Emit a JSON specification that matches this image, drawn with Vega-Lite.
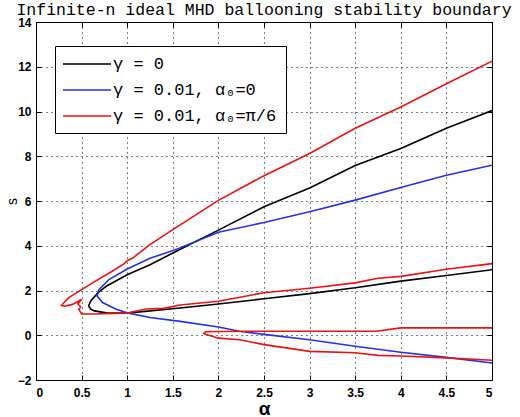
{
  "$schema": "https://vega.github.io/schema/vega-lite/v6.json",
  "autosize": {"type": "none"},
  "width": 456,
  "height": 358,
  "padding": {"left": 36, "top": 22, "right": 28, "bottom": 37},
  "background": "white",
  "title": {
    "text": "Infinite-n ideal MHD ballooning stability boundary",
    "font": "Liberation Mono",
    "fontSize": 16.5,
    "fontWeight": "normal",
    "color": "black",
    "anchor": "middle",
    "offset": -2
  },
  "config": {
    "view": {"stroke": "black", "strokeWidth": 1},
    "axis": {
      "domainColor": "black",
      "tickColor": "black",
      "labelColor": "black",
      "titleColor": "black",
      "labelFont": "Liberation Sans",
      "labelFontWeight": "bold",
      "labelFontSize": 12,
      "gridColor": "black",
      "gridDash": [1, 4],
      "gridOpacity": 1,
      "gridWidth": 1.1
    }
  },
  "data": {
    "values": [
      {"series": "γ = 0", "part": "k", "i": 1, "a": 5, "s": 10.04},
      {"series": "γ = 0", "part": "k", "i": 2, "a": 4.5, "s": 9.25},
      {"series": "γ = 0", "part": "k", "i": 3, "a": 4, "s": 8.35},
      {"series": "γ = 0", "part": "k", "i": 4, "a": 3.5, "s": 7.59},
      {"series": "γ = 0", "part": "k", "i": 5, "a": 3, "s": 6.58},
      {"series": "γ = 0", "part": "k", "i": 6, "a": 2.5, "s": 5.74},
      {"series": "γ = 0", "part": "k", "i": 7, "a": 2, "s": 4.7},
      {"series": "γ = 0", "part": "k", "i": 8, "a": 1.55, "s": 3.78},
      {"series": "γ = 0", "part": "k", "i": 9, "a": 1.25, "s": 3.15},
      {"series": "γ = 0", "part": "k", "i": 10, "a": 1, "s": 2.7},
      {"series": "γ = 0", "part": "k", "i": 11, "a": 0.77, "s": 2.19},
      {"series": "γ = 0", "part": "k", "i": 12, "a": 0.68, "s": 1.9},
      {"series": "γ = 0", "part": "k", "i": 13, "a": 0.6, "s": 1.53},
      {"series": "γ = 0", "part": "k", "i": 14, "a": 0.577, "s": 1.31},
      {"series": "γ = 0", "part": "k", "i": 15, "a": 0.6, "s": 1.17},
      {"series": "γ = 0", "part": "k", "i": 16, "a": 0.64, "s": 1.09},
      {"series": "γ = 0", "part": "k", "i": 17, "a": 0.77, "s": 1.0},
      {"series": "γ = 0", "part": "k", "i": 18, "a": 1, "s": 0.99},
      {"series": "γ = 0", "part": "k", "i": 19, "a": 1.58, "s": 1.22},
      {"series": "γ = 0", "part": "k", "i": 20, "a": 2, "s": 1.4},
      {"series": "γ = 0", "part": "k", "i": 21, "a": 2.5, "s": 1.63},
      {"series": "γ = 0", "part": "k", "i": 22, "a": 3, "s": 1.86},
      {"series": "γ = 0", "part": "k", "i": 23, "a": 3.5, "s": 2.12},
      {"series": "γ = 0", "part": "k", "i": 24, "a": 4, "s": 2.42},
      {"series": "γ = 0", "part": "k", "i": 25, "a": 4.5, "s": 2.67},
      {"series": "γ = 0", "part": "k", "i": 26, "a": 5, "s": 2.93},

      {"series": "γ = 0.01, α₀=0", "part": "b", "i": 1, "a": 5, "s": 7.6},
      {"series": "γ = 0.01, α₀=0", "part": "b", "i": 2, "a": 4.5, "s": 7.15},
      {"series": "γ = 0.01, α₀=0", "part": "b", "i": 3, "a": 4, "s": 6.6},
      {"series": "γ = 0.01, α₀=0", "part": "b", "i": 4, "a": 3.5, "s": 6.04},
      {"series": "γ = 0.01, α₀=0", "part": "b", "i": 5, "a": 3, "s": 5.52},
      {"series": "γ = 0.01, α₀=0", "part": "b", "i": 6, "a": 2.5, "s": 5.04},
      {"series": "γ = 0.01, α₀=0", "part": "b", "i": 7, "a": 2, "s": 4.6},
      {"series": "γ = 0.01, α₀=0", "part": "b", "i": 8, "a": 1.55, "s": 3.85},
      {"series": "γ = 0.01, α₀=0", "part": "b", "i": 9, "a": 1.25, "s": 3.44},
      {"series": "γ = 0.01, α₀=0", "part": "b", "i": 10, "a": 1, "s": 2.96},
      {"series": "γ = 0.01, α₀=0", "part": "b", "i": 11, "a": 0.8, "s": 2.49},
      {"series": "γ = 0.01, α₀=0", "part": "b", "i": 12, "a": 0.69, "s": 2.04},
      {"series": "γ = 0.01, α₀=0", "part": "b", "i": 13, "a": 0.67, "s": 1.75},
      {"series": "γ = 0.01, α₀=0", "part": "b", "i": 14, "a": 0.73, "s": 1.46},
      {"series": "γ = 0.01, α₀=0", "part": "b", "i": 15, "a": 0.88, "s": 1.16},
      {"series": "γ = 0.01, α₀=0", "part": "b", "i": 16, "a": 1, "s": 1.0},
      {"series": "γ = 0.01, α₀=0", "part": "b", "i": 17, "a": 1.25, "s": 0.79},
      {"series": "γ = 0.01, α₀=0", "part": "b", "i": 18, "a": 1.58, "s": 0.62},
      {"series": "γ = 0.01, α₀=0", "part": "b", "i": 19, "a": 2, "s": 0.37},
      {"series": "γ = 0.01, α₀=0", "part": "b", "i": 20, "a": 2.23, "s": 0.18},
      {"series": "γ = 0.01, α₀=0", "part": "b", "i": 21, "a": 2.5, "s": 0.04},
      {"series": "γ = 0.01, α₀=0", "part": "b", "i": 22, "a": 3, "s": -0.2},
      {"series": "γ = 0.01, α₀=0", "part": "b", "i": 23, "a": 3.5, "s": -0.49},
      {"series": "γ = 0.01, α₀=0", "part": "b", "i": 24, "a": 4, "s": -0.76},
      {"series": "γ = 0.01, α₀=0", "part": "b", "i": 25, "a": 4.5, "s": -0.99},
      {"series": "γ = 0.01, α₀=0", "part": "b", "i": 26, "a": 5, "s": -1.24},

      {"series": "γ = 0.01, α₀=π/6", "part": "r1", "i": 1, "a": 5, "s": 12.25},
      {"series": "γ = 0.01, α₀=π/6", "part": "r1", "i": 2, "a": 4.5, "s": 11.24},
      {"series": "γ = 0.01, α₀=π/6", "part": "r1", "i": 3, "a": 4, "s": 10.2},
      {"series": "γ = 0.01, α₀=π/6", "part": "r1", "i": 4, "a": 3.5, "s": 9.25},
      {"series": "γ = 0.01, α₀=π/6", "part": "r1", "i": 5, "a": 3, "s": 8.12},
      {"series": "γ = 0.01, α₀=π/6", "part": "r1", "i": 6, "a": 2.5, "s": 7.13},
      {"series": "γ = 0.01, α₀=π/6", "part": "r1", "i": 7, "a": 2, "s": 6.03},
      {"series": "γ = 0.01, α₀=π/6", "part": "r1", "i": 8, "a": 1.5, "s": 4.72},
      {"series": "γ = 0.01, α₀=π/6", "part": "r1", "i": 9, "a": 1.25, "s": 4.05},
      {"series": "γ = 0.01, α₀=π/6", "part": "r1", "i": 10, "a": 1.06, "s": 3.45},
      {"series": "γ = 0.01, α₀=π/6", "part": "r1", "i": 11, "a": 1.0, "s": 3.33},
      {"series": "γ = 0.01, α₀=π/6", "part": "r1", "i": 12, "a": 0.96, "s": 3.18},
      {"series": "γ = 0.01, α₀=π/6", "part": "r1", "i": 13, "a": 0.83, "s": 2.85},
      {"series": "γ = 0.01, α₀=π/6", "part": "r1", "i": 14, "a": 0.62, "s": 2.34},
      {"series": "γ = 0.01, α₀=π/6", "part": "r1", "i": 15, "a": 0.5, "s": 2.04},
      {"series": "γ = 0.01, α₀=π/6", "part": "r1", "i": 16, "a": 0.36, "s": 1.68},
      {"series": "γ = 0.01, α₀=π/6", "part": "r1", "i": 17, "a": 0.28, "s": 1.34},
      {"series": "γ = 0.01, α₀=π/6", "part": "r1", "i": 18, "a": 0.31, "s": 1.3},
      {"series": "γ = 0.01, α₀=π/6", "part": "r1", "i": 19, "a": 0.4, "s": 1.38},
      {"series": "γ = 0.01, α₀=π/6", "part": "r1", "i": 20, "a": 0.47, "s": 1.53},
      {"series": "γ = 0.01, α₀=π/6", "part": "r1", "i": 21, "a": 0.5, "s": 1.61},
      {"series": "γ = 0.01, α₀=π/6", "part": "r1", "i": 22, "a": 0.46, "s": 1.4},
      {"series": "γ = 0.01, α₀=π/6", "part": "r1", "i": 23, "a": 0.49, "s": 1.26},
      {"series": "γ = 0.01, α₀=π/6", "part": "r1", "i": 24, "a": 0.47, "s": 1.16},
      {"series": "γ = 0.01, α₀=π/6", "part": "r1", "i": 25, "a": 0.5, "s": 0.95},
      {"series": "γ = 0.01, α₀=π/6", "part": "r1", "i": 26, "a": 0.62, "s": 0.95},
      {"series": "γ = 0.01, α₀=π/6", "part": "r1", "i": 27, "a": 1.0, "s": 0.99},
      {"series": "γ = 0.01, α₀=π/6", "part": "r1", "i": 28, "a": 1.21, "s": 1.17},
      {"series": "γ = 0.01, α₀=π/6", "part": "r1", "i": 29, "a": 1.4, "s": 1.2},
      {"series": "γ = 0.01, α₀=π/6", "part": "r1", "i": 30, "a": 1.58, "s": 1.35},
      {"series": "γ = 0.01, α₀=π/6", "part": "r1", "i": 31, "a": 2, "s": 1.52},
      {"series": "γ = 0.01, α₀=π/6", "part": "r1", "i": 32, "a": 2.5, "s": 1.9},
      {"series": "γ = 0.01, α₀=π/6", "part": "r1", "i": 33, "a": 3, "s": 2.1},
      {"series": "γ = 0.01, α₀=π/6", "part": "r1", "i": 34, "a": 3.5, "s": 2.34},
      {"series": "γ = 0.01, α₀=π/6", "part": "r1", "i": 35, "a": 3.75, "s": 2.55},
      {"series": "γ = 0.01, α₀=π/6", "part": "r1", "i": 36, "a": 4, "s": 2.63},
      {"series": "γ = 0.01, α₀=π/6", "part": "r1", "i": 37, "a": 4.5, "s": 2.95},
      {"series": "γ = 0.01, α₀=π/6", "part": "r1", "i": 38, "a": 5, "s": 3.2},

      {"series": "γ = 0.01, α₀=π/6", "part": "r2", "i": 1, "a": 5, "s": 0.33},
      {"series": "γ = 0.01, α₀=π/6", "part": "r2", "i": 2, "a": 4.5, "s": 0.33},
      {"series": "γ = 0.01, α₀=π/6", "part": "r2", "i": 3, "a": 4, "s": 0.33},
      {"series": "γ = 0.01, α₀=π/6", "part": "r2", "i": 4, "a": 3.73, "s": 0.18},
      {"series": "γ = 0.01, α₀=π/6", "part": "r2", "i": 5, "a": 3, "s": 0.18},
      {"series": "γ = 0.01, α₀=π/6", "part": "r2", "i": 6, "a": 2.5, "s": 0.18},
      {"series": "γ = 0.01, α₀=π/6", "part": "r2", "i": 7, "a": 2, "s": 0.17},
      {"series": "γ = 0.01, α₀=π/6", "part": "r2", "i": 8, "a": 1.86, "s": 0.16},
      {"series": "γ = 0.01, α₀=π/6", "part": "r2", "i": 9, "a": 1.84, "s": 0.08},
      {"series": "γ = 0.01, α₀=π/6", "part": "r2", "i": 10, "a": 1.88, "s": 0.02},
      {"series": "γ = 0.01, α₀=π/6", "part": "r2", "i": 11, "a": 2, "s": -0.13},
      {"series": "γ = 0.01, α₀=π/6", "part": "r2", "i": 12, "a": 2.23, "s": -0.2},
      {"series": "γ = 0.01, α₀=π/6", "part": "r2", "i": 13, "a": 2.5, "s": -0.42},
      {"series": "γ = 0.01, α₀=π/6", "part": "r2", "i": 14, "a": 3, "s": -0.72},
      {"series": "γ = 0.01, α₀=π/6", "part": "r2", "i": 15, "a": 3.5, "s": -0.78},
      {"series": "γ = 0.01, α₀=π/6", "part": "r2", "i": 16, "a": 3.75, "s": -0.9},
      {"series": "γ = 0.01, α₀=π/6", "part": "r2", "i": 17, "a": 4, "s": -0.93},
      {"series": "γ = 0.01, α₀=π/6", "part": "r2", "i": 18, "a": 4.5, "s": -1.01},
      {"series": "γ = 0.01, α₀=π/6", "part": "r2", "i": 19, "a": 5, "s": -1.12}
    ]
  },
  "layer": [
    {
      "mark": {"type": "line", "strokeWidth": 1.6, "clip": true},
      "encoding": {
        "x": {
          "field": "a",
          "type": "quantitative",
          "scale": {"domain": [0, 5], "nice": false, "zero": false},
          "axis": {
            "orient": "bottom",
            "values": [0, 0.5, 1, 1.5, 2, 2.5, 3, 3.5, 4, 4.5, 5],
            "format": "~g",
            "grid": true,
            "tickSize": -5,
            "labelPadding": 12,
            "title": "α",
            "titleFont": "Liberation Sans",
            "titleFontSize": 19,
            "titleFontWeight": "bold",
            "titlePadding": 1
          }
        },
        "y": {
          "field": "s",
          "type": "quantitative",
          "scale": {"domain": [-2, 14], "nice": false, "zero": false},
          "axis": {
            "orient": "left",
            "values": [-2, 0, 2, 4, 6, 8, 10, 12, 14],
            "grid": true,
            "tickSize": -5,
            "labelPadding": 10,
            "title": "s",
            "titleFont": "Liberation Sans",
            "titleFontSize": 14,
            "titleFontWeight": "normal",
            "titlePadding": -2
          }
        },
        "color": {
          "field": "series",
          "type": "nominal",
          "scale": {
            "domain": ["γ = 0", "γ = 0.01, α₀=0", "γ = 0.01, α₀=π/6"],
            "range": ["#000000", "#2233e6", "#ee1111"]
          },
          "legend": {
            "title": null,
            "orient": "none",
            "legendX": 19,
            "legendY": 24,
            "symbolType": "M-3,0H3",
            "symbolSize": 256,
            "symbolOffset": 14,
            "symbolStrokeWidth": 1.6,
            "labelFont": "Liberation Mono",
            "labelFontSize": 17,
            "labelColor": "black",
            "labelOffset": 17,
            "labelLimit": 300,
            "rowPadding": 9,
            "padding": 9,
            "strokeColor": "black",
            "fillColor": "white"
          }
        },
        "detail": {"field": "part"},
        "order": {"field": "i", "type": "quantitative"}
      }
    },
    {
      "mark": {"type": "point", "opacity": 0},
      "encoding": {
        "x": {
          "field": "a",
          "type": "quantitative",
          "axis": {
            "orient": "top",
            "values": [0, 0.5, 1, 1.5, 2, 2.5, 3, 3.5, 4, 4.5, 5],
            "grid": false,
            "labels": false,
            "tickSize": -5,
            "title": null
          }
        },
        "y": {
          "field": "s",
          "type": "quantitative",
          "axis": {
            "orient": "right",
            "values": [-2, 0, 2, 4, 6, 8, 10, 12, 14],
            "grid": false,
            "labels": false,
            "tickSize": -5,
            "title": null
          }
        }
      }
    }
  ],
  "resolve": {"axis": {"x": "independent", "y": "independent"}}
}
